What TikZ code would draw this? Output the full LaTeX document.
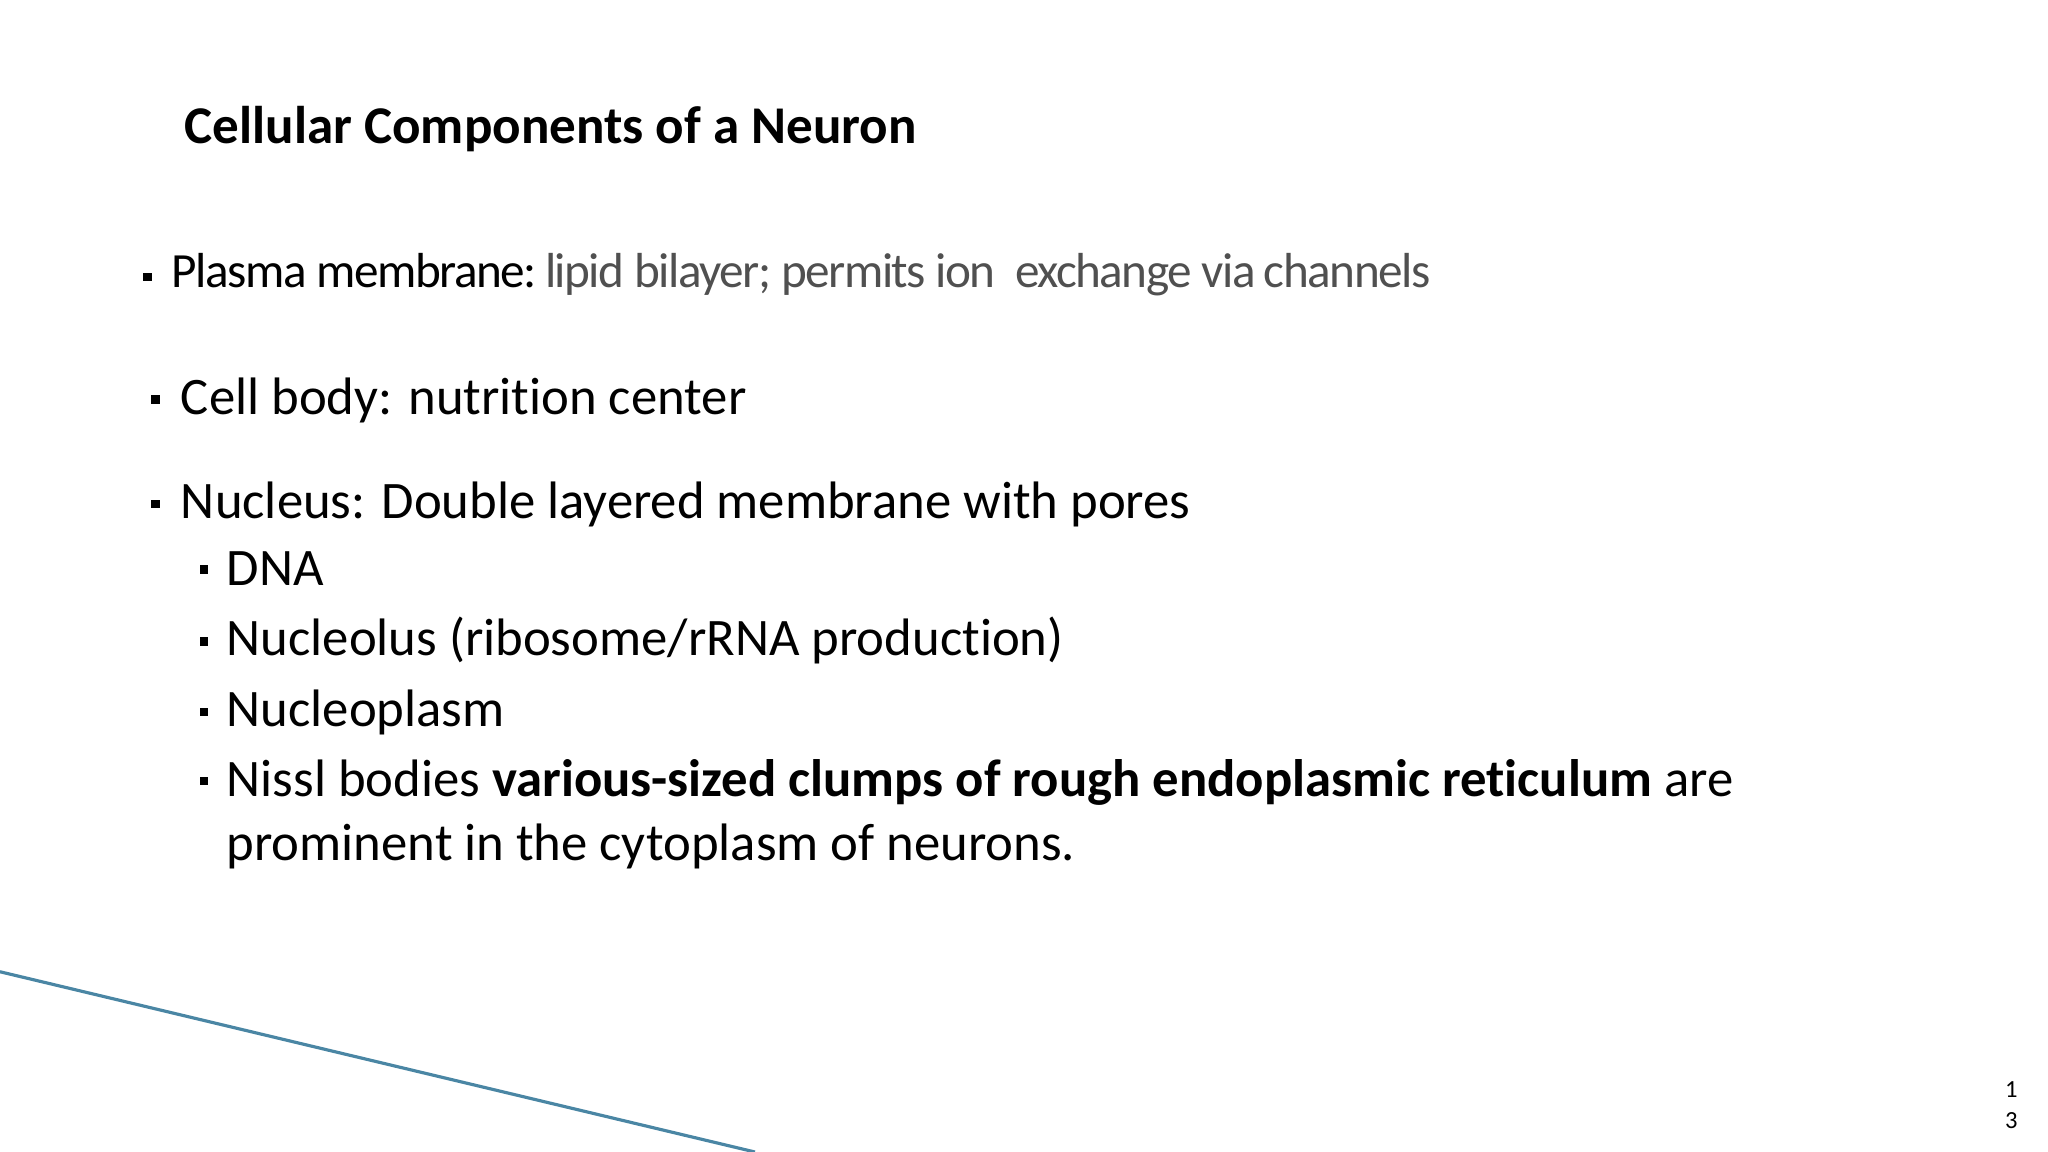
\documentclass[tikz,border=0pt]{standalone}
\usepackage{fontspec}
\setmainfont[Ligatures=CommonOff]{Carlito}
\definecolor{linec}{RGB}{74,134,164}
\definecolor{greyt}{RGB}{80,80,80}
\tikzset{txt/.style={anchor=base west,inner sep=0pt,font=\fontsize{15pt}{18pt}\selectfont},
 bul/.style={fill=black,minimum size=2.4pt,inner sep=0pt,draw=none}}
\begin{document}
\begin{tikzpicture}[x=0.01306cm,y=-0.01306cm]
\useasboundingbox (0,0) rectangle (1568,882);
\node[txt,anchor=base west,font=\bfseries\fontsize{15.1pt}{18pt}\selectfont] (title) at (141,110) {Cellular Components of a Neuron};
\node[bul] (b1) at (113,212) {};
\node[txt,font=\fontsize{14pt}{17pt}\selectfont] (t1) at (131,220) {\addfontfeature{LetterSpace=-3}Plasma membrane:\,\textcolor{greyt}{lipid bilayer; permits ion\ \ exchange via\,channels}};
\node[bul] (b2) at (119,306) {};
\node[txt] (t2) at (138,317) {Cell body: nutrition center};
\node[bul] (b3) at (119,386) {};
\node[txt] (t3) at (138,397) {Nucleus: Double layered membrane with pores};
\node[bul] (b4) at (156,436) {};
\node[txt] (t4) at (173,448) {DNA};
\node[bul] (b5) at (156,491) {};
\node[txt] (t5) at (173,502) {Nucleolus (ribosome/rRNA production)};
\node[bul] (b6) at (156,545) {};
\node[txt] (t6) at (173,556) {Nucleoplasm};
\node[bul] (b7) at (156,598) {};
\node[txt] (t7) at (173,610) {Nissl bodies \textbf{various-sized clumps of rough endoplasmic reticulum} are};
\node[txt] (t8) at (173,659) {prominent in the cytoplasm of neurons.};
\coordinate (l1) at (0,744);
\coordinate (l2) at (578,882);
\draw[linec,line width=0.9pt] (l1) -- (l2);
\node[font=\fontsize{7pt}{8pt}\selectfont,inner sep=0pt] (p1) at (1540,834) {1};
\node[font=\fontsize{7pt}{8pt}\selectfont,inner sep=0pt] (p3) at (1540,858) {3};
\end{tikzpicture}
\end{document}
